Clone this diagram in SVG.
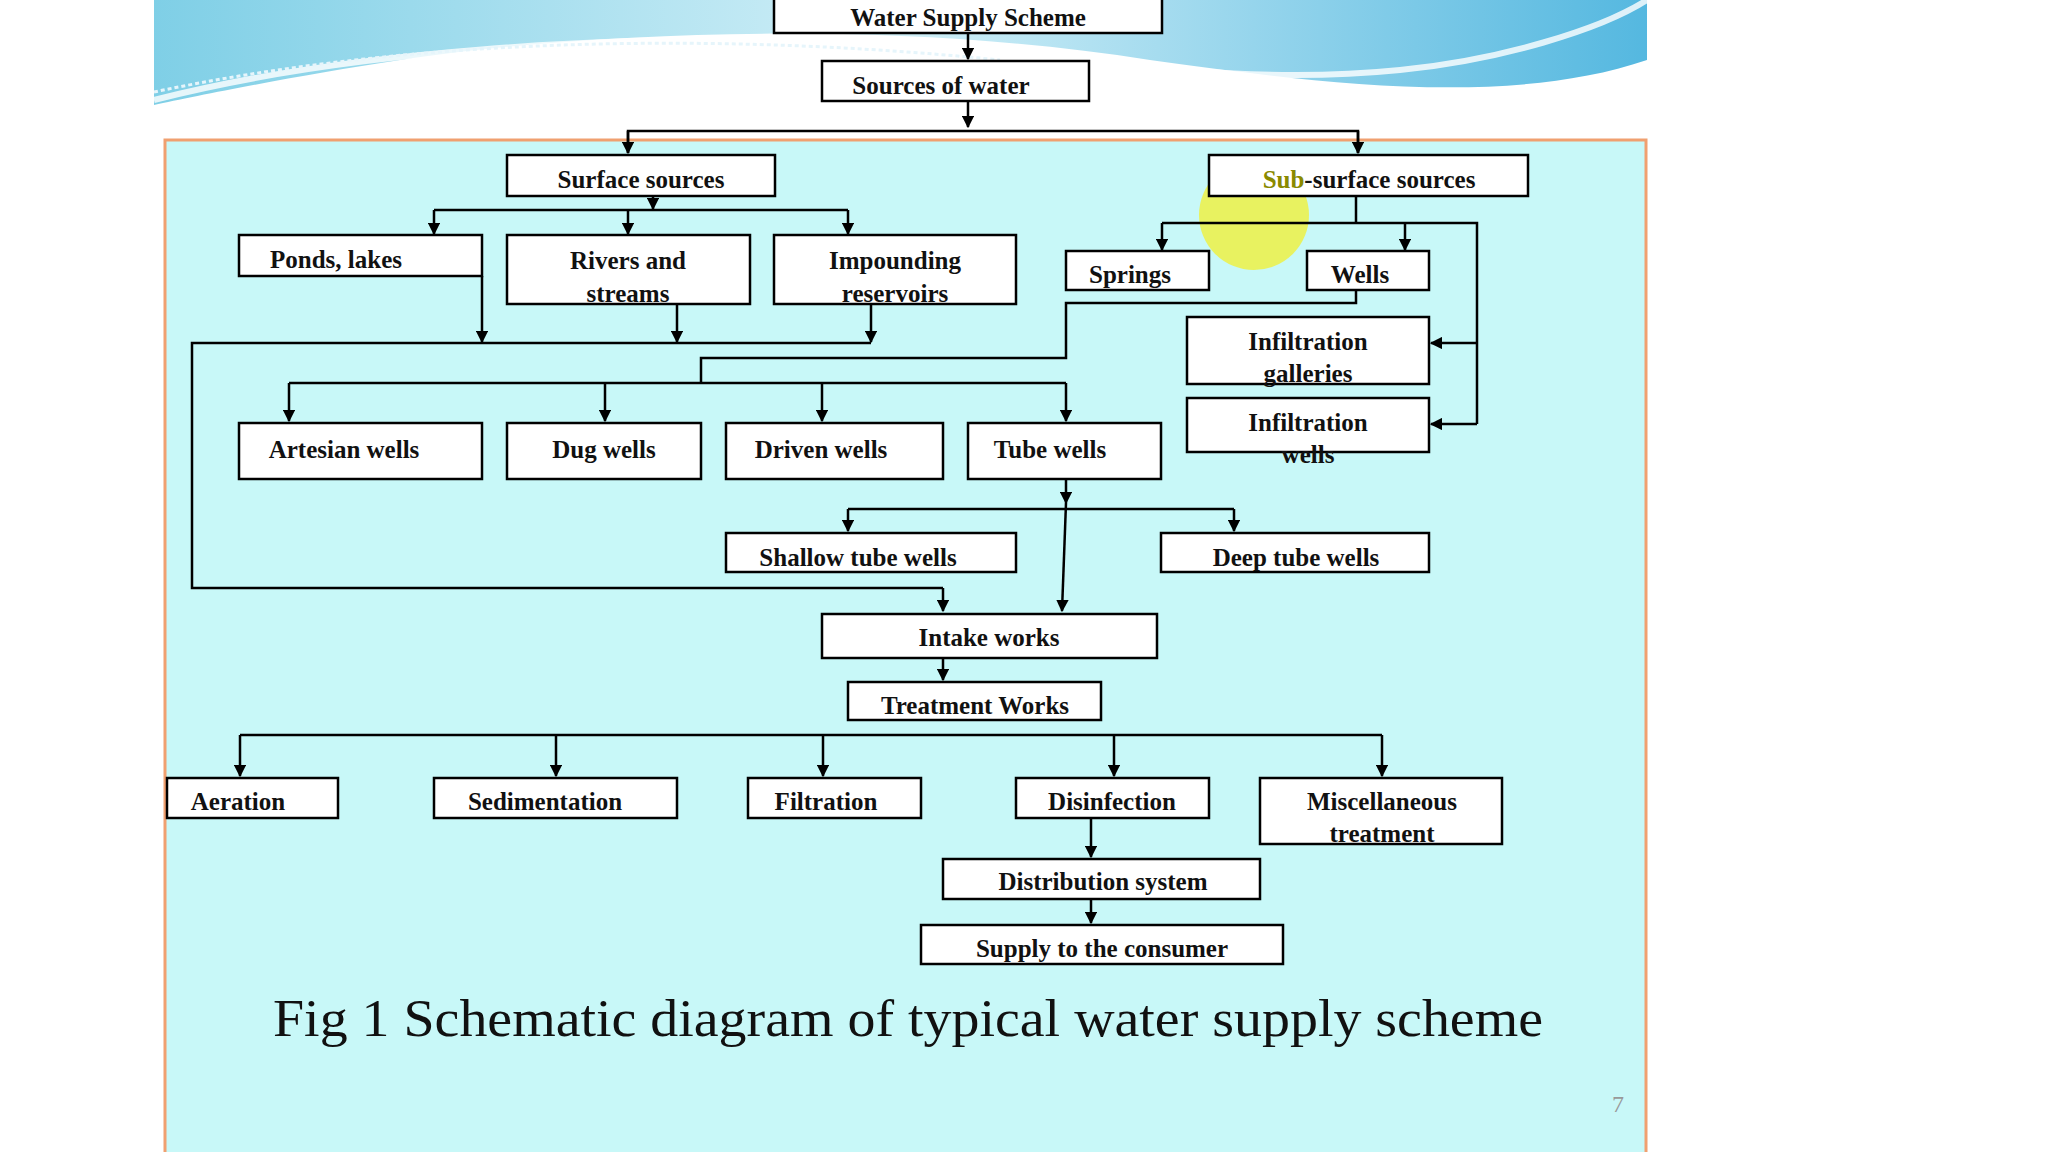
<svg xmlns="http://www.w3.org/2000/svg" width="2048" height="1152" viewBox="0 0 2048 1152">
<defs>
<marker id="ah" viewBox="0 0 10 10" refX="9" refY="5" markerWidth="5" markerHeight="5" orient="auto"><path d="M0,0 L10,5 L0,10 z" fill="#000"/></marker>
<linearGradient id="wave" x1="0" y1="0" x2="1" y2="0"><stop offset="0" stop-color="#5fc3e0"/><stop offset="0.5" stop-color="#c5ebf5"/><stop offset="1" stop-color="#2aa6d8"/></linearGradient>
<style>
.b{fill:#fff;stroke:#000;stroke-width:2.5}
.t{font-family:"Liberation Serif",serif;font-weight:bold;font-size:25px;text-anchor:middle;fill:#111}
.c{fill:none;stroke:#000;stroke-width:2.5}
.a{fill:none;stroke:#000;stroke-width:2.5;marker-end:url(#ah)}
</style>
</defs>
<rect width="2048" height="1152" fill="#fff"/>
<g id="header">
<path d="M154,0 H1647 V60 C1500,110 1300,80 1150,60 C900,20 600,30 400,60 C300,75 200,95 154,105 Z" fill="url(#wave)" opacity="0.8"/>
<path d="M154,100 C350,50 600,35 850,40 C1050,45 1200,90 1400,70 C1500,60 1600,30 1647,0" fill="none" stroke="#fff" stroke-width="6" opacity="0.8"/>
<path d="M154,92 C400,40 700,30 1000,60" fill="none" stroke="#e6f5fb" stroke-width="3" stroke-dasharray="4 3"/>
</g>
<rect x="165" y="140" width="1481" height="1015" fill="#c8f8f8" stroke="#f0a070" stroke-width="3"/>
<circle cx="1254" cy="215" r="55" fill="#f5f020" opacity="0.7"/>
<g id="connectors">
<line class="a" x1="968" y1="33" x2="968" y2="59"/>
<line class="a" x1="968" y1="101" x2="968" y2="127"/>
<polyline class="c" points="628,153 628,131 1358,131 1358,153"/>
<line class="a" x1="628" y1="131" x2="628" y2="153"/>
<line class="a" x1="1358" y1="131" x2="1358" y2="153"/>
<line class="a" x1="653" y1="196" x2="653" y2="209"/>
<polyline class="c" points="434,210 848,210"/>
<line class="a" x1="434" y1="210" x2="434" y2="234"/>
<line class="a" x1="628" y1="210" x2="628" y2="234"/>
<line class="a" x1="848" y1="210" x2="848" y2="234"/>
<polyline class="c" points="1356,196 1356,223"/>
<polyline class="c" points="1162,223 1477,223 1477,424"/>
<line class="a" x1="1162" y1="223" x2="1162" y2="250"/>
<line class="a" x1="1405" y1="223" x2="1405" y2="250"/>
<line class="a" x1="1477" y1="343" x2="1431" y2="343"/>
<line class="a" x1="1477" y1="424" x2="1431" y2="424"/>
<line class="a" x1="482" y1="276" x2="482" y2="342"/>
<line class="a" x1="677" y1="304" x2="677" y2="342"/>
<line class="a" x1="871" y1="304" x2="871" y2="342"/>
<polyline class="c" points="871,343 192,343 192,588 943,588"/>
<line class="a" x1="943" y1="588" x2="943" y2="611"/>
<polyline class="c" points="1356,290 1356,303 1066,303 1066,358 701,358 701,383"/>
<polyline class="c" points="289,383 1066,383"/>
<line class="a" x1="289" y1="383" x2="289" y2="421"/>
<line class="a" x1="605" y1="383" x2="605" y2="421"/>
<line class="a" x1="822" y1="383" x2="822" y2="421"/>
<line class="a" x1="1066" y1="383" x2="1066" y2="421"/>
<line class="a" x1="1066" y1="479" x2="1066" y2="503"/>
<polyline class="c" points="848,509 1234,509"/>
<line class="a" x1="848" y1="509" x2="848" y2="531"/>
<line class="a" x1="1234" y1="509" x2="1234" y2="531"/>
<line class="a" x1="1066" y1="503" x2="1062" y2="611"/>
<line class="a" x1="943" y1="658" x2="943" y2="680"/>
<polyline class="c" points="240,735 1382,735"/>
<line class="a" x1="240" y1="735" x2="240" y2="776"/>
<line class="a" x1="556" y1="735" x2="556" y2="776"/>
<line class="a" x1="823" y1="735" x2="823" y2="776"/>
<line class="a" x1="1114" y1="735" x2="1114" y2="776"/>
<line class="a" x1="1382" y1="735" x2="1382" y2="776"/>
<line class="a" x1="1091" y1="818" x2="1091" y2="857"/>
<line class="a" x1="1091" y1="899" x2="1091" y2="923"/>
</g>
<g id="n1"><rect class="b" x="774" y="-3" width="388" height="36"/><text class="t" x="968" y="26">Water Supply Scheme</text></g>
<g id="n2"><rect class="b" x="822" y="61" width="267" height="40"/><text class="t" x="941" y="94">Sources of water</text></g>
<g id="n3"><rect class="b" x="507" y="155" width="268" height="41"/><text class="t" x="641" y="188">Surface sources</text></g>
<g id="n4"><rect class="b" x="1209" y="155" width="319" height="41"/><text class="t" x="1369" y="188"><tspan fill="#8a8a00">Sub</tspan>-surface sources</text></g>
<g id="n5"><rect class="b" x="239" y="235" width="243" height="41"/><text class="t" x="336" y="268">Ponds, lakes</text></g>
<g id="n6"><rect class="b" x="507" y="235" width="243" height="69"/><text class="t" x="628" y="269">Rivers and</text><text class="t" x="628" y="302">streams</text></g>
<g id="n7"><rect class="b" x="774" y="235" width="242" height="69"/><text class="t" x="895" y="269">Impounding</text><text class="t" x="895" y="302">reservoirs</text></g>
<g id="n8"><rect class="b" x="1066" y="251" width="143" height="39"/><text class="t" x="1130" y="283">Springs</text></g>
<g id="n9"><rect class="b" x="1307" y="251" width="122" height="39"/><text class="t" x="1360" y="283">Wells</text></g>
<g id="n10"><rect class="b" x="1187" y="317" width="242" height="67"/><text class="t" x="1308" y="350">Infiltration</text><text class="t" x="1308" y="382">galleries</text></g>
<g id="n11"><rect class="b" x="1187" y="398" width="242" height="54"/><text class="t" x="1308" y="431">Infiltration</text><text class="t" x="1308" y="463">wells</text></g>
<g id="n12"><rect class="b" x="239" y="423" width="243" height="56"/><text class="t" x="344" y="458">Artesian wells</text></g>
<g id="n13"><rect class="b" x="507" y="423" width="194" height="56"/><text class="t" x="604" y="458">Dug wells</text></g>
<g id="n14"><rect class="b" x="726" y="423" width="217" height="56"/><text class="t" x="821" y="458">Driven wells</text></g>
<g id="n15"><rect class="b" x="968" y="423" width="193" height="56"/><text class="t" x="1050" y="458">Tube wells</text></g>
<g id="n16"><rect class="b" x="726" y="533" width="290" height="39"/><text class="t" x="858" y="566">Shallow tube wells</text></g>
<g id="n17"><rect class="b" x="1161" y="533" width="268" height="39"/><text class="t" x="1296" y="566">Deep tube wells</text></g>
<g id="n18"><rect class="b" x="822" y="614" width="335" height="44"/><text class="t" x="989" y="646">Intake works</text></g>
<g id="n19"><rect class="b" x="848" y="682" width="253" height="38"/><text class="t" x="975" y="714">Treatment Works</text></g>
<g id="n20"><rect class="b" x="167" y="778" width="171" height="40"/><text class="t" x="238" y="810">Aeration</text></g>
<g id="n21"><rect class="b" x="434" y="778" width="243" height="40"/><text class="t" x="545" y="810">Sedimentation</text></g>
<g id="n22"><rect class="b" x="748" y="778" width="173" height="40"/><text class="t" x="826" y="810">Filtration</text></g>
<g id="n23"><rect class="b" x="1016" y="778" width="193" height="40"/><text class="t" x="1112" y="810">Disinfection</text></g>
<g id="n24"><rect class="b" x="1260" y="778" width="242" height="66"/><text class="t" x="1382" y="810">Miscellaneous</text><text class="t" x="1382" y="842">treatment</text></g>
<g id="n25"><rect class="b" x="943" y="859" width="317" height="40"/><text class="t" x="1103" y="890">Distribution system</text></g>
<g id="n26"><rect class="b" x="921" y="925" width="362" height="39"/><text class="t" x="1102" y="957">Supply to the consumer</text></g>
<text x="908" y="1036" font-family="Liberation Serif, serif" font-size="52" text-anchor="middle" fill="#111" textLength="1270" lengthAdjust="spacingAndGlyphs">Fig 1 Schematic diagram of typical water supply scheme</text>
<text x="1618" y="1112" font-family="Liberation Serif, serif" font-size="24" text-anchor="middle" fill="#999">7</text>
</svg>
